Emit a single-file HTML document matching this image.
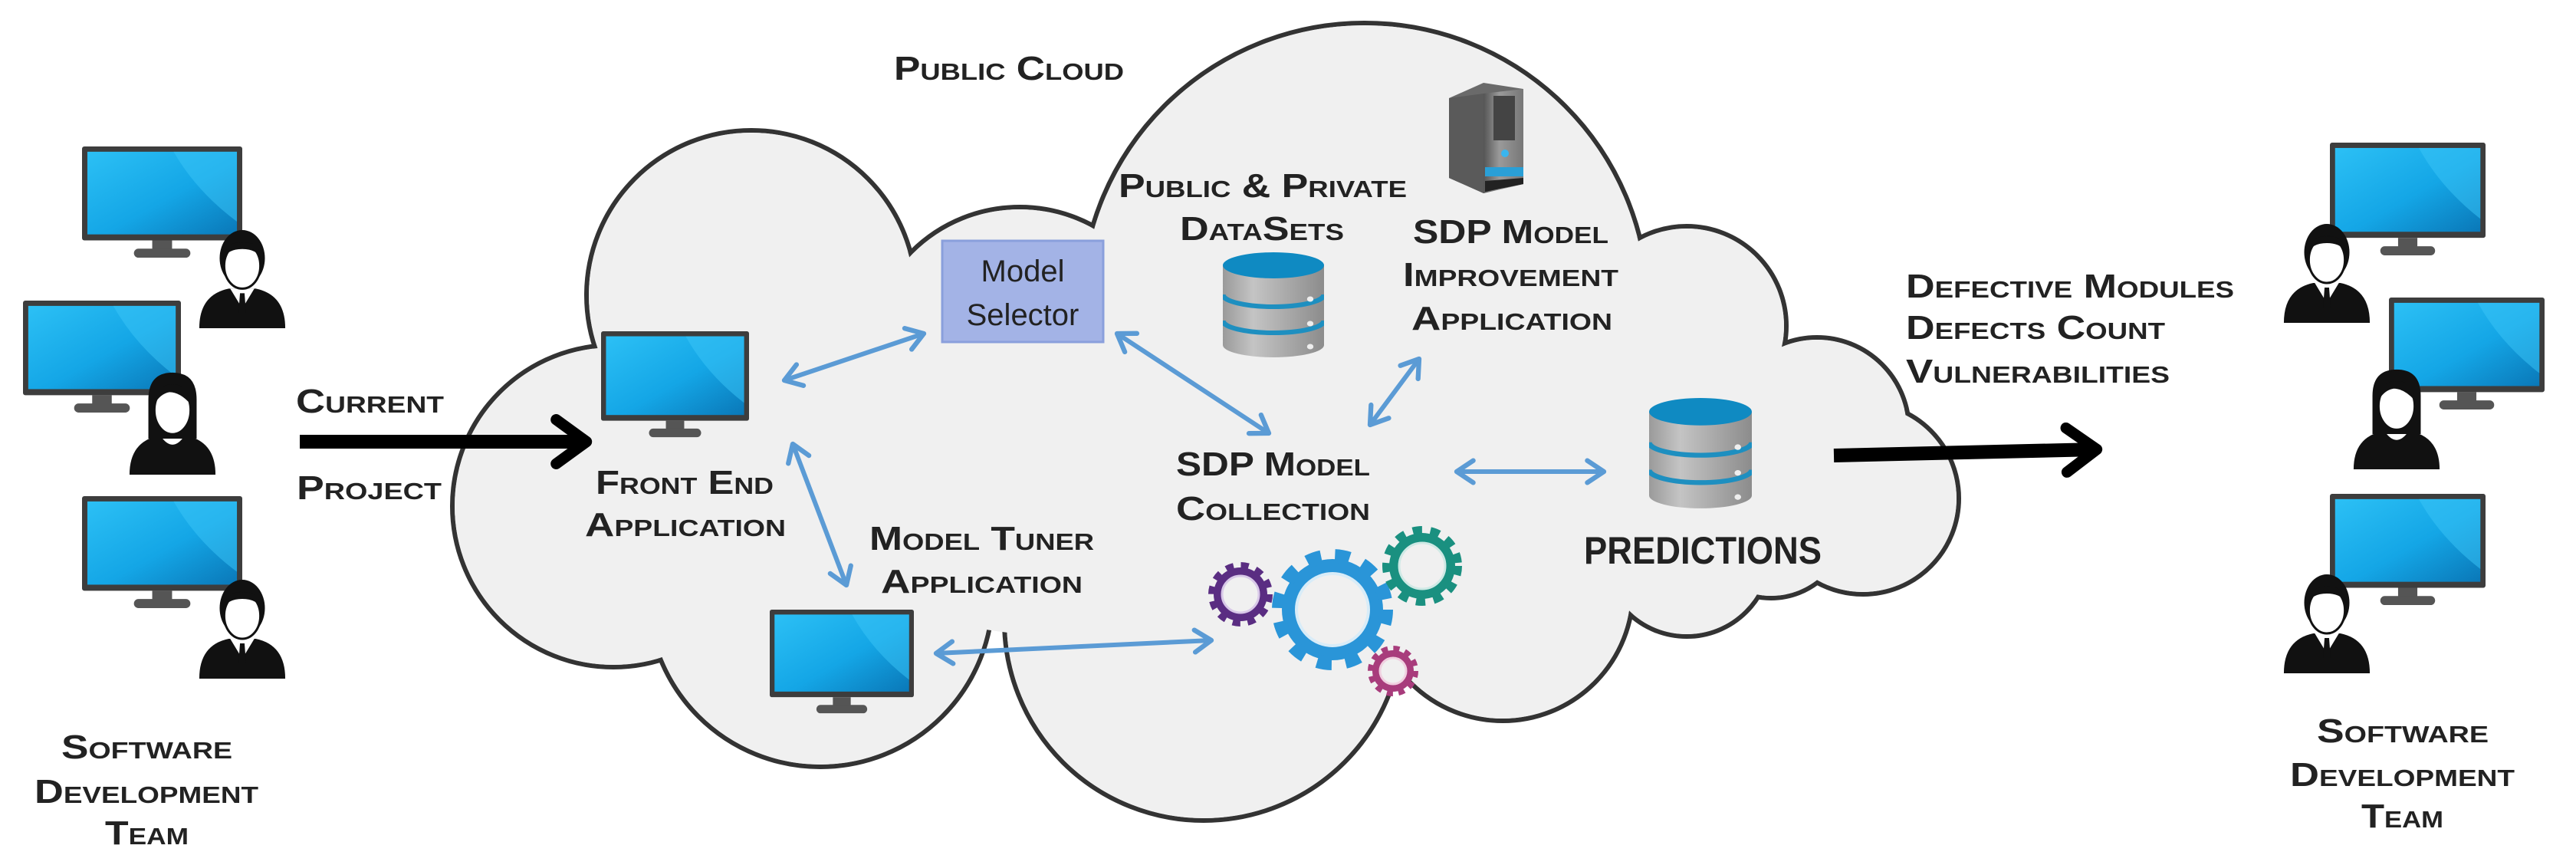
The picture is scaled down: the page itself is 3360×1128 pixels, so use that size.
<!DOCTYPE html>
<html><head><meta charset="utf-8"><style>
html,body{margin:0;padding:0;background:#fff;}
svg{display:block;}
.sc{font-family:"Liberation Sans",sans-serif;font-weight:bold;font-variant:small-caps;font-size:44px;fill:#222;}
</style></head><body>
<svg width="3360" height="1128" viewBox="0 0 3360 1128" xmlns="http://www.w3.org/2000/svg">
<defs>
<linearGradient id="scr" x1="0" y1="0" x2="1" y2="1">
<stop offset="0" stop-color="#2cc0f5"/><stop offset="0.55" stop-color="#14a6e6"/><stop offset="1" stop-color="#0a78b8"/></linearGradient>
<linearGradient id="cyl" x1="0" y1="0" x2="1" y2="0">
<stop offset="0" stop-color="#9a9a9a"/><stop offset="0.3" stop-color="#c4c4c4"/><stop offset="1" stop-color="#8c8c8c"/></linearGradient>
<linearGradient id="srv" x1="0" y1="0" x2="1" y2="0">
<stop offset="0" stop-color="#555"/><stop offset="0.4" stop-color="#9a9a9a"/><stop offset="1" stop-color="#777"/></linearGradient>
<symbol id="mon" viewBox="0 0 210 150" preserveAspectRatio="none">
<rect x="0" y="0" width="210" height="125" fill="#3d3d3d" rx="3"/>
<rect x="7" y="7" width="196" height="110" fill="url(#scr)"/>
<path d="M120,7 Q150,60 203,100 L203,7 Z" fill="#3bc6f7" opacity="0.5"/>
<rect x="92" y="125" width="26" height="13" fill="#555"/>
<rect x="68" y="136" width="74" height="12" rx="6" fill="#555"/>
</symbol>
<symbol id="man" viewBox="0 0 120 130" preserveAspectRatio="none">
<path d="M3,130 Q3,86 42,78 L78,78 Q117,86 117,130 Z" fill="#111"/>
<polygon points="44,78 60,104 76,78" fill="#fff"/>
<polygon points="57,84 63,84 65,110 60,118 55,110" fill="#111"/>
<ellipse cx="60" cy="38" rx="30" ry="37" fill="#111"/>
<ellipse cx="60" cy="48" rx="24" ry="30" fill="#fff" stroke="#111" stroke-width="3"/>
<path d="M34,40 Q40,14 60,18 Q82,14 86,40 Q80,26 60,26 Q40,26 34,40 Z" fill="#111"/>
</symbol>
<symbol id="woman" viewBox="0 0 120 140" preserveAspectRatio="none">
<path d="M3,140 Q3,96 42,88 L78,88 Q117,96 117,140 Z" fill="#111"/>
<path d="M44,88 Q60,112 76,88 Z" fill="#fff"/>
<path d="M28,40 Q28,4 60,4 Q92,4 92,40 L92,92 L28,92 Z" fill="#111"/>
<ellipse cx="60" cy="54" rx="24" ry="32" fill="#fff" stroke="#111" stroke-width="3"/>
<path d="M36,46 Q40,18 60,20 Q80,18 84,46 Q70,30 56,30 Q44,32 36,46 Z" fill="#111"/>
</symbol>
<symbol id="db" viewBox="0 0 110 140" preserveAspectRatio="none">
<path d="M0,18 L0,122 A55,16 0 0 0 110,122 L110,18 Z" fill="url(#cyl)"/>
<path d="M0,56 A55,16 0 0 0 110,56" fill="none" stroke="#1e8fc0" stroke-width="6"/>
<path d="M0,90 A55,16 0 0 0 110,90" fill="none" stroke="#1e8fc0" stroke-width="6"/>
<ellipse cx="55" cy="18" rx="55" ry="17" fill="#0f8ac2"/>
<circle cx="95" cy="62" r="3.5" fill="#eee"/><circle cx="95" cy="94" r="3.5" fill="#eee"/><circle cx="95" cy="124" r="3.5" fill="#eee"/>
</symbol>
<marker id="ah" viewBox="0 0 20 20" refX="16" refY="10" markerWidth="6" markerHeight="6" orient="auto-start-reverse" markerUnits="strokeWidth">
<path d="M4,2 L16,10 L4,18" fill="none" stroke="#5b9bd5" stroke-width="3.5" stroke-linecap="round" stroke-linejoin="round"/>
</marker>
<marker id="bh" viewBox="0 0 20 20" refX="15" refY="10" markerWidth="4" markerHeight="4" orient="auto" markerUnits="strokeWidth">
<path d="M4,2 L15,10 L4,18" fill="none" stroke="#000" stroke-width="4" stroke-linecap="round" stroke-linejoin="round"/>
</marker>
</defs>

<!-- cloud -->
<g fill="#f0f0f0" stroke="#333" stroke-width="6">
<circle cx="800" cy="660" r="210"/>
<circle cx="980" cy="385" r="215"/>
<circle cx="1330" cy="470" r="200"/>
<circle cx="1780" cy="400" r="370"/>
<circle cx="2200" cy="425" r="130"/>
<circle cx="2370" cy="560" r="120"/>
<circle cx="2430" cy="650" r="125"/>
<circle cx="2310" cy="680" r="100"/>
<circle cx="2200" cy="720" r="110"/>
<circle cx="1960" cy="770" r="170"/>
<circle cx="1570" cy="810" r="260"/>
<circle cx="1070" cy="775" r="225"/>
</g>
<g fill="#f0f0f0">
<circle cx="800" cy="660" r="207"/>
<circle cx="980" cy="385" r="212"/>
<circle cx="1330" cy="470" r="197"/>
<circle cx="1780" cy="400" r="367"/>
<circle cx="2200" cy="425" r="127"/>
<circle cx="2370" cy="560" r="117"/>
<circle cx="2430" cy="650" r="122"/>
<circle cx="2310" cy="680" r="97"/>
<circle cx="2200" cy="720" r="107"/>
<circle cx="1960" cy="770" r="167"/>
<circle cx="1570" cy="810" r="257"/>
<circle cx="1070" cy="775" r="222"/>
<ellipse cx="1550" cy="620" rx="650" ry="220"/>
<ellipse cx="2150" cy="600" rx="200" ry="150"/>
</g>

<!-- labels -->
<text class="sc" x="1166" y="104" textLength="300" lengthAdjust="spacingAndGlyphs">Public Cloud</text>
<text class="sc" x="386" y="538" textLength="193" lengthAdjust="spacingAndGlyphs">Current</text>
<text class="sc" x="387" y="651" textLength="189" lengthAdjust="spacingAndGlyphs">Project</text>
<text class="sc" x="777" y="644" textLength="232" lengthAdjust="spacingAndGlyphs">Front End</text>
<text class="sc" x="763" y="699" textLength="262" lengthAdjust="spacingAndGlyphs">Application</text>
<text class="sc" x="1134" y="717" textLength="293" lengthAdjust="spacingAndGlyphs">Model Tuner</text>
<text class="sc" x="1149" y="773" textLength="263" lengthAdjust="spacingAndGlyphs">Application</text>
<text class="sc" x="1459" y="257" textLength="376" lengthAdjust="spacingAndGlyphs">Public &amp; Private</text>
<text class="sc" x="1539" y="313" textLength="214" lengthAdjust="spacingAndGlyphs">DataSets</text>
<text class="sc" x="1843" y="317" textLength="255" lengthAdjust="spacingAndGlyphs">SDP Model</text>
<text class="sc" x="1830" y="373" textLength="281" lengthAdjust="spacingAndGlyphs">Improvement</text>
<text class="sc" x="1841" y="430" textLength="262" lengthAdjust="spacingAndGlyphs">Application</text>
<text class="sc" x="1534" y="620" textLength="253" lengthAdjust="spacingAndGlyphs">SDP Model</text>
<text class="sc" x="1534" y="678" textLength="253" lengthAdjust="spacingAndGlyphs">Collection</text>
<text x="2066" y="735" textLength="310" lengthAdjust="spacingAndGlyphs" font-family="Liberation Sans, sans-serif" font-weight="bold" font-size="50" fill="#222">PREDICTIONS</text>
<text class="sc" x="2486" y="388" textLength="428" lengthAdjust="spacingAndGlyphs">Defective Modules</text>
<text class="sc" x="2486" y="442" textLength="338" lengthAdjust="spacingAndGlyphs">Defects Count</text>
<text class="sc" x="2486" y="499" textLength="344" lengthAdjust="spacingAndGlyphs">Vulnerabilities</text>
<text class="sc" x="80" y="989" textLength="223" lengthAdjust="spacingAndGlyphs">Software</text>
<text class="sc" x="45" y="1047" textLength="292" lengthAdjust="spacingAndGlyphs">Development</text>
<text class="sc" x="137" y="1101" textLength="109" lengthAdjust="spacingAndGlyphs">Team</text>
<text class="sc" x="3022" y="968" textLength="224" lengthAdjust="spacingAndGlyphs">Software</text>
<text class="sc" x="2987" y="1025" textLength="293" lengthAdjust="spacingAndGlyphs">Development</text>
<text class="sc" x="3080" y="1079" textLength="107" lengthAdjust="spacingAndGlyphs">Team</text>

<!-- model selector -->
<rect x="1229" y="314" width="210" height="132" fill="#a3b3e6" stroke="#8a9fdc" stroke-width="3"/>
<text x="1334" y="367" text-anchor="middle" font-family="Liberation Sans, sans-serif" font-size="40" fill="#222">Model</text>
<text x="1334" y="424" text-anchor="middle" font-family="Liberation Sans, sans-serif" font-size="40" fill="#222">Selector</text>

<!-- blue arrows -->
<g stroke="#5b9bd5" stroke-width="6" fill="none" marker-start="url(#ah)" marker-end="url(#ah)">
<line x1="1023" y1="496" x2="1205" y2="435"/>
<line x1="1034" y1="579" x2="1104" y2="763"/>
<line x1="1221" y1="852" x2="1580" y2="835"/>
<line x1="1457" y1="435" x2="1655" y2="565"/>
<line x1="1787" y1="554" x2="1851" y2="468"/>
<line x1="1900" y1="615" x2="2092" y2="615"/>
</g>

<!-- black arrows -->
<line x1="391" y1="576" x2="765" y2="576" stroke="#000" stroke-width="18" marker-end="url(#bh)"/>
<line x1="2392" y1="594" x2="2735" y2="586" stroke="#000" stroke-width="18" marker-end="url(#bh)"/>

<!-- monitors -->
<use href="#mon" x="107" y="191" width="209" height="147"/>
<use href="#mon" x="30" y="392" width="206" height="148"/>
<use href="#mon" x="107" y="647" width="209" height="148"/>
<use href="#mon" x="784" y="432" width="193" height="140"/>
<use href="#mon" x="1004" y="795" width="188" height="137"/>
<use href="#mon" x="3039" y="186" width="203" height="149"/>
<use href="#mon" x="3116" y="388" width="203" height="148"/>
<use href="#mon" x="3039" y="644" width="203" height="147"/>

<!-- people -->
<use href="#man" x="257" y="299" width="118" height="129"/>
<use href="#woman" x="166" y="482" width="118" height="137"/>
<use href="#man" x="257" y="755" width="118" height="130"/>
<use href="#man" x="2976" y="291" width="118" height="130"/>
<use href="#woman" x="3067" y="478" width="118" height="134"/>
<use href="#man" x="2976" y="748" width="118" height="130"/>

<!-- databases -->
<use href="#db" x="1595" y="328" width="132" height="140"/>
<use href="#db" x="2151" y="518" width="134" height="147"/>

<!-- server -->
<g>
<polygon points="1890,128 1935,108 1987,116 1987,240 1935,252 1890,232" fill="#6a6a6a"/>
<polygon points="1935,122 1987,116 1987,240 1935,252" fill="url(#srv)"/>
<polygon points="1890,128 1935,122 1935,252 1890,232" fill="#5a5a5a"/>
<rect x="1948" y="125" width="28" height="58" fill="#444"/>
<circle cx="1963" cy="200" r="5" fill="#39b5ee"/>
<rect x="1937" y="218" width="50" height="12" fill="#2a9fd6"/>
<polygon points="1937,236 1987,232 1987,240 1937,250" fill="#222"/>
</g>

<!-- gears -->
<g fill="none">
<g>
<circle cx="1738" cy="795" r="66" fill="#2a95d8"/>
<circle cx="1738" cy="795" r="70" stroke="#2a95d8" stroke-width="18" stroke-dasharray="19 18"/>
<circle cx="1738" cy="795" r="47" fill="#f0f0f0" stroke="#d8ecf8" stroke-width="4"/>
</g>
<g>
<circle cx="1618" cy="775" r="35" fill="#5a2d82"/>
<circle cx="1618" cy="775" r="37" stroke="#5a2d82" stroke-width="10" stroke-dasharray="10 9.4"/>
<circle cx="1618" cy="775" r="24" fill="#f0f0f0" stroke="#d8c8e8" stroke-width="3"/>
</g>
<g>
<circle cx="1855" cy="738" r="43" fill="#1a9080"/>
<circle cx="1855" cy="738" r="46" stroke="#1a9080" stroke-width="12" stroke-dasharray="12 10.7"/>
<circle cx="1855" cy="738" r="30" fill="#f0f0f0" stroke="#cfe9e5" stroke-width="3"/>
</g>
<g>
<circle cx="1817" cy="875" r="27" fill="#a83c7c"/>
<circle cx="1817" cy="875" r="29" stroke="#a83c7c" stroke-width="8" stroke-dasharray="8 7.2"/>
<circle cx="1817" cy="875" r="17" fill="#f0f0f0" stroke="#f0d0e0" stroke-width="3"/>
</g>
</g>
</svg>
</body></html>
